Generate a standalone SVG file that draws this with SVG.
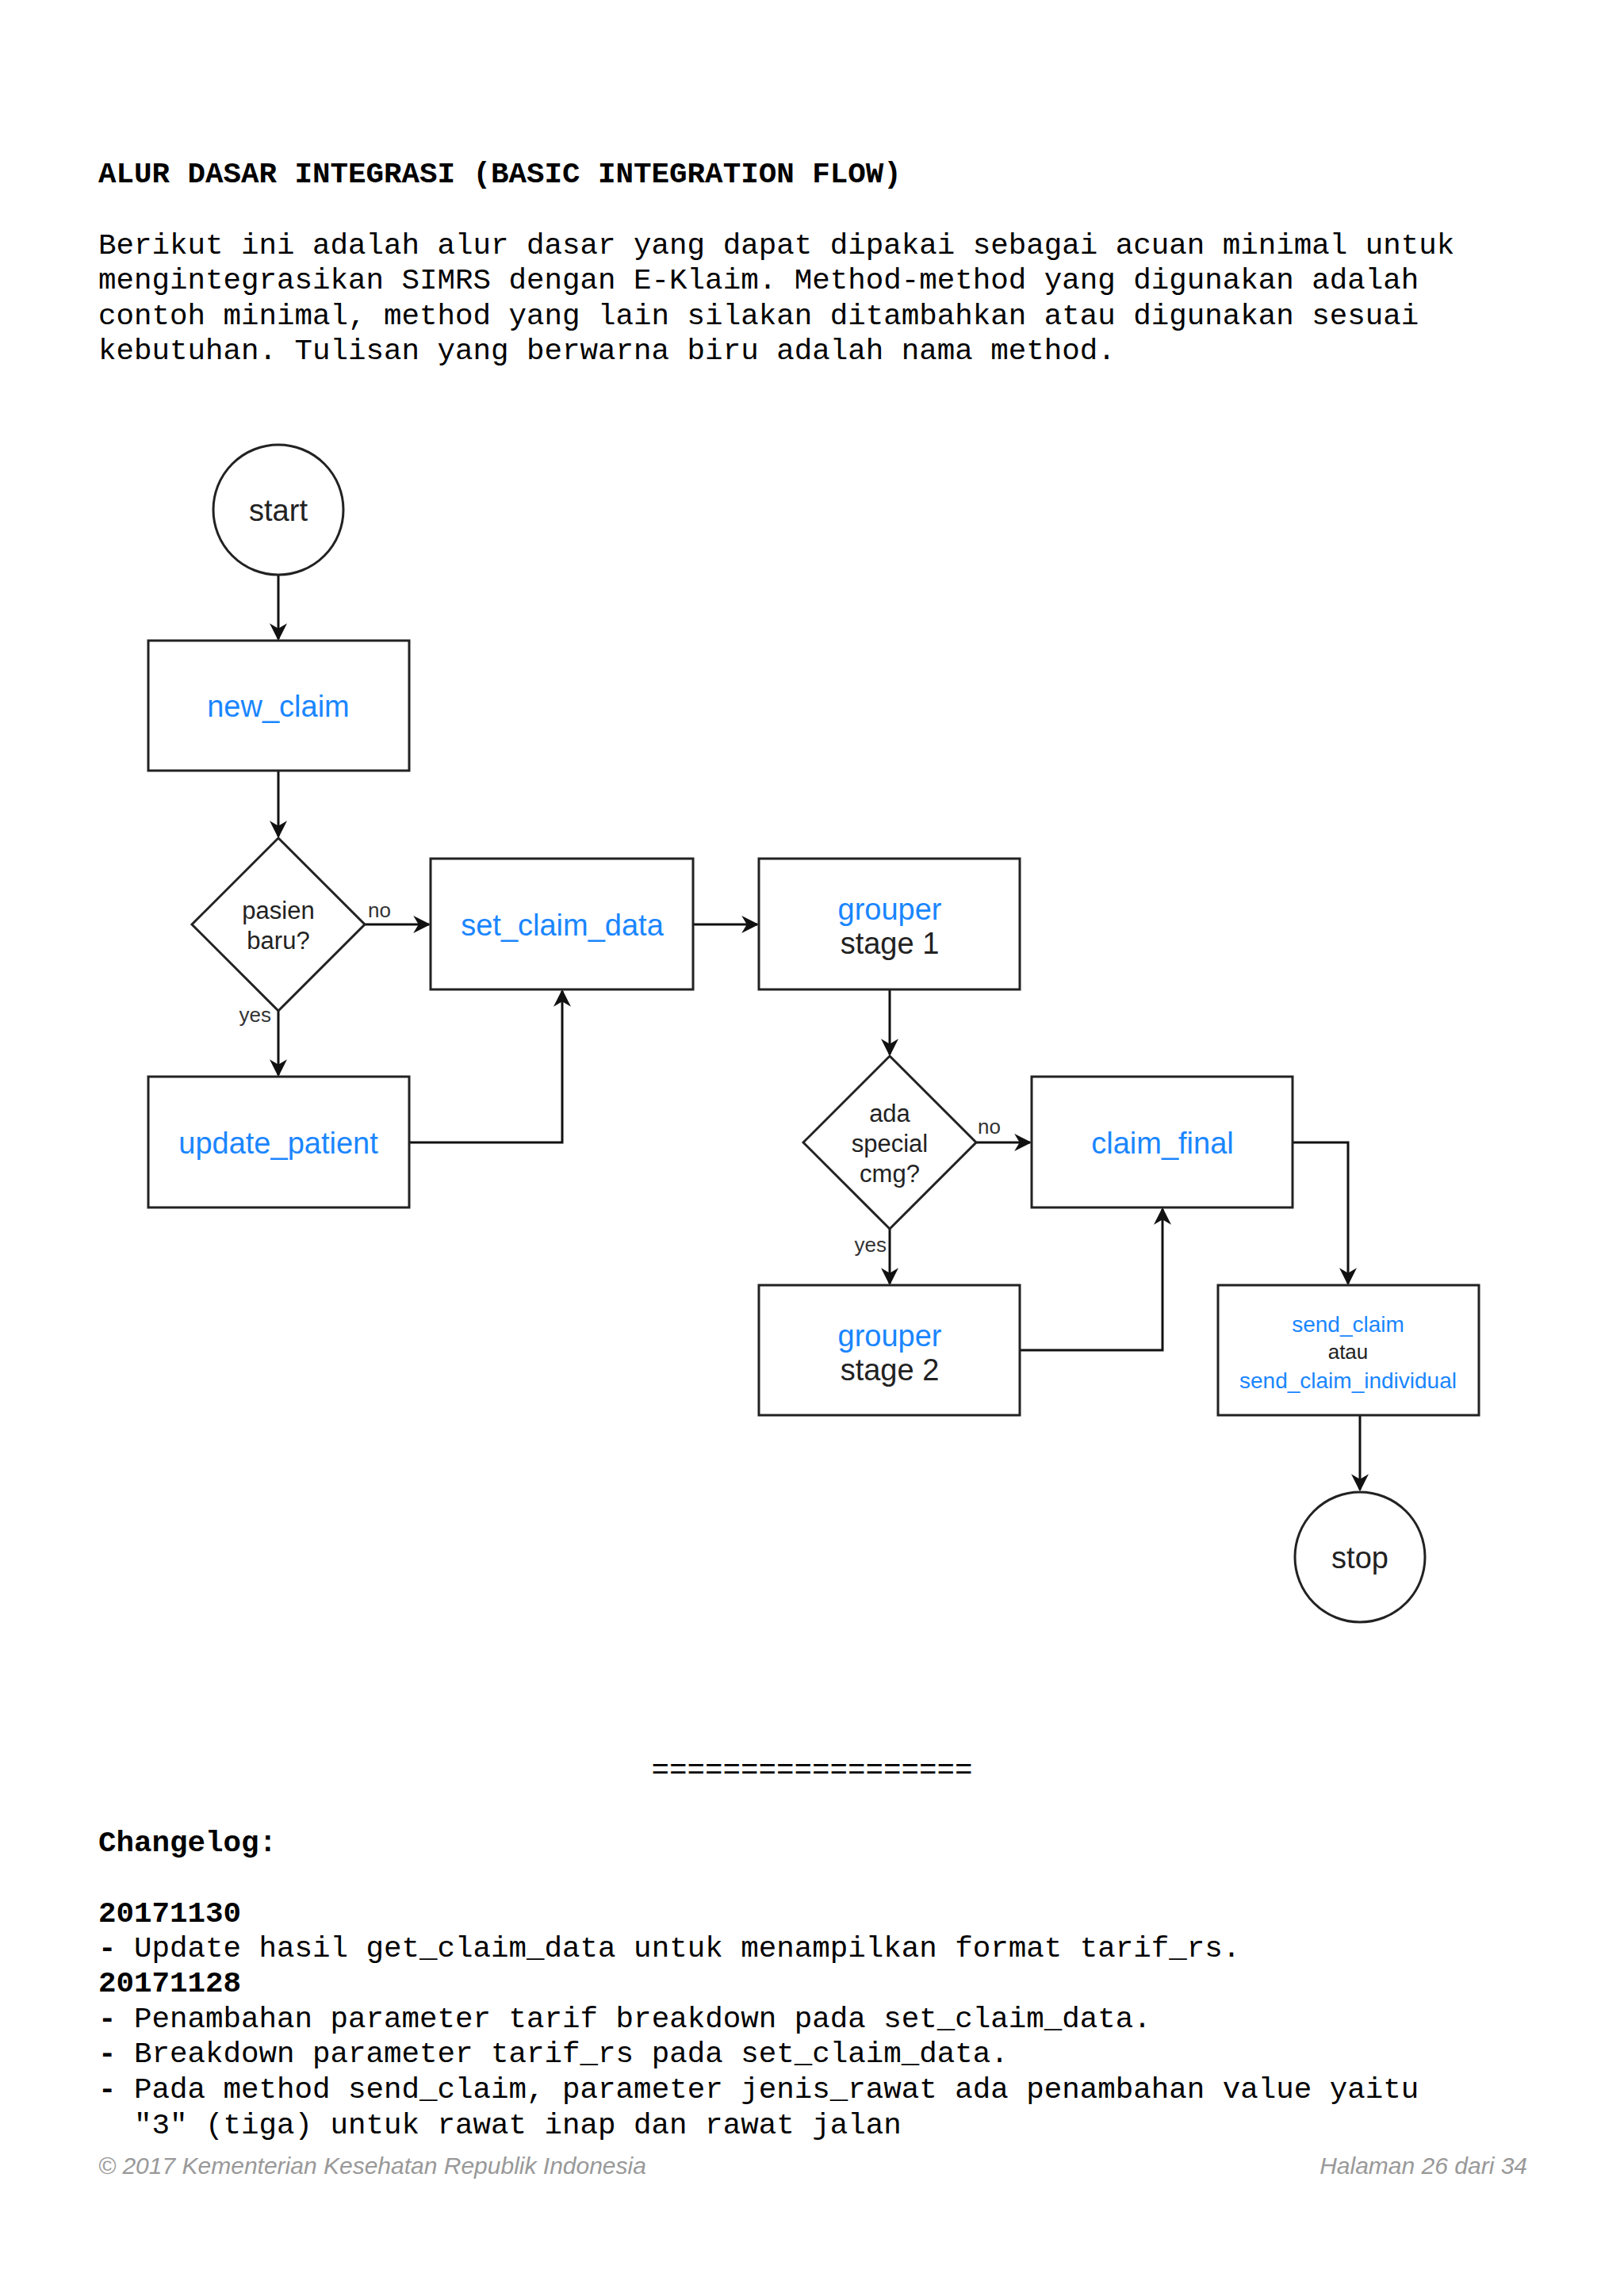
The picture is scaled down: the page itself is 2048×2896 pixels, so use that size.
<svg xmlns="http://www.w3.org/2000/svg" width="2048" height="2896" viewBox="0 0 2048 2896">
<style>
.mono{font-family:"Liberation Mono","DejaVu Sans Mono",monospace;font-size:37.5px;fill:#000}
.b{font-weight:bold}
.n{fill:#fff;stroke:#222;stroke-width:3}
.t{font-family:"Liberation Sans",Arial,sans-serif;text-anchor:middle;fill:#222}
.blue{fill:#1a86ff}
.lbl{font-family:"Liberation Sans",Arial,sans-serif;font-size:26px;fill:#333}
.c{fill:none;stroke:#111;stroke-width:3;marker-end:url(#a)}
.ft{font-family:"Liberation Sans",Arial,sans-serif;font-style:italic;font-size:30px;fill:#999}
</style>
<defs><marker id="a" markerWidth="10" markerHeight="10" refX="9" refY="5" orient="auto" markerUnits="userSpaceOnUse" viewBox="0 0 10 10"><path d="M0,0 L10,5 L0,10 L3,5 z" fill="#111"/></marker>
<marker id="a2" viewBox="0 0 10 10" refX="9" refY="5" markerWidth="22" markerHeight="22" markerUnits="userSpaceOnUse" orient="auto"><path d="M0,0 L10,5 L0,10 L3,5 z" fill="#111"/></marker></defs>
<rect width="2048" height="2896" fill="#fff"/>
<text class="mono b" x="124" y="230">ALUR DASAR INTEGRASI (BASIC INTEGRATION FLOW)</text>
<text class="mono" x="124" y="320">Berikut ini adalah alur dasar yang dapat dipakai sebagai acuan minimal untuk</text>
<text class="mono" x="124" y="364">mengintegrasikan SIMRS dengan E-Klaim. Method-method yang digunakan adalah</text>
<text class="mono" x="124" y="409">contoh minimal, method yang lain silakan ditambahkan atau digunakan sesuai</text>
<text class="mono" x="124" y="453">kebutuhan. Tulisan yang berwarna biru adalah nama method.</text>

<g id="connectors">
<path class="c" style="marker-end:url(#a2)" d="M351,726 V806"/>
<path class="c" style="marker-end:url(#a2)" d="M351,972 V1055"/>
<path class="c" style="marker-end:url(#a2)" d="M460,1166 H541"/>
<path class="c" style="marker-end:url(#a2)" d="M351,1275 V1356"/>
<path class="c" style="marker-end:url(#a2)" d="M516,1441 H709 V1250"/>
<path class="c" style="marker-end:url(#a2)" d="M874,1166 H955"/>
<path class="c" style="marker-end:url(#a2)" d="M1122,1248 V1330"/>
<path class="c" style="marker-end:url(#a2)" d="M1231,1441 H1299"/>
<path class="c" style="marker-end:url(#a2)" d="M1122,1550 V1619"/>
<path class="c" style="marker-end:url(#a2)" d="M1286,1703 H1466 V1525"/>
<path class="c" style="marker-end:url(#a2)" d="M1630,1441 H1700 V1619"/>
<path class="c" style="marker-end:url(#a2)" d="M1715,1785 V1879"/>
<text class="lbl" x="464" y="1157">no</text>
<text class="lbl" x="342" y="1289" text-anchor="end">yes</text>
<text class="lbl" x="1233" y="1430">no</text>
<text class="lbl" x="1118" y="1579" text-anchor="end">yes</text>
</g>

<g id="start"><circle class="n" cx="351" cy="643" r="82"/><text class="t" x="351" y="657" font-size="38">start</text></g>
<g id="new_claim"><rect class="n" x="187" y="808" width="329" height="164"/><text class="t blue" x="351" y="904" font-size="38">new_claim</text></g>
<g id="pasien_baru"><path class="n" d="M351,1057 L460,1166 L351,1275 L242,1166 Z"/><text class="t" x="351" y="1159" font-size="31">pasien</text><text class="t" x="351" y="1197" font-size="31">baru?</text></g>
<g id="set_claim_data"><rect class="n" x="543" y="1083" width="331" height="165"/><text class="t blue" x="709" y="1180" font-size="38">set_claim_data</text></g>
<g id="grouper1"><rect class="n" x="957" y="1083" width="329" height="165"/><text class="t blue" x="1122" y="1160" font-size="38">grouper</text><text class="t" x="1122" y="1203" font-size="38">stage 1</text></g>
<g id="update_patient"><rect class="n" x="187" y="1358" width="329" height="165"/><text class="t blue" x="351" y="1455" font-size="38">update_patient</text></g>
<g id="special_cmg"><path class="n" d="M1122,1332 L1231,1441 L1122,1550 L1013,1441 Z"/><text class="t" x="1122" y="1415" font-size="31">ada</text><text class="t" x="1122" y="1453" font-size="31">special</text><text class="t" x="1122" y="1491" font-size="31">cmg?</text></g>
<g id="claim_final"><rect class="n" x="1301" y="1358" width="329" height="165"/><text class="t blue" x="1466" y="1455" font-size="38">claim_final</text></g>
<g id="grouper2"><rect class="n" x="957" y="1621" width="329" height="164"/><text class="t blue" x="1122" y="1698" font-size="38">grouper</text><text class="t" x="1122" y="1741" font-size="38">stage 2</text></g>
<g id="send_claim"><rect class="n" x="1536" y="1621" width="329" height="164"/><text class="t blue" x="1700" y="1680" font-size="28">send_claim</text><text class="t" x="1700" y="1714" font-size="26">atau</text><text class="t blue" x="1700" y="1751" font-size="28">send_claim_individual</text></g>
<g id="stop"><circle class="n" cx="1715" cy="1964" r="82"/><text class="t" x="1715" y="1978" font-size="38">stop</text></g>

<text class="mono" x="1024" y="2243" text-anchor="middle">==================</text>
<text class="mono b" x="124" y="2335">Changelog:</text>
<text class="mono b" x="124" y="2424">20171130</text>
<text class="mono" x="124" y="2468" xml:space="preserve"><tspan font-weight="bold">-</tspan> Update hasil get_claim_data untuk menampilkan format tarif_rs.</text>
<text class="mono b" x="124" y="2512">20171128</text>
<text class="mono" x="124" y="2557" xml:space="preserve"><tspan font-weight="bold">-</tspan> Penambahan parameter tarif breakdown pada set_claim_data.</text>
<text class="mono" x="124" y="2601" xml:space="preserve"><tspan font-weight="bold">-</tspan> Breakdown parameter tarif_rs pada set_claim_data.</text>
<text class="mono" x="124" y="2646" xml:space="preserve"><tspan font-weight="bold">-</tspan> Pada method send_claim, parameter jenis_rawat ada penambahan value yaitu</text>
<text class="mono" x="124" y="2691" xml:space="preserve">  "3" (tiga) untuk rawat inap dan rawat jalan</text>
<text class="ft" x="124" y="2742">© 2017 Kementerian Kesehatan Republik Indonesia</text>
<text class="ft" x="1926" y="2742" text-anchor="end">Halaman 26 dari 34</text>
</svg>
